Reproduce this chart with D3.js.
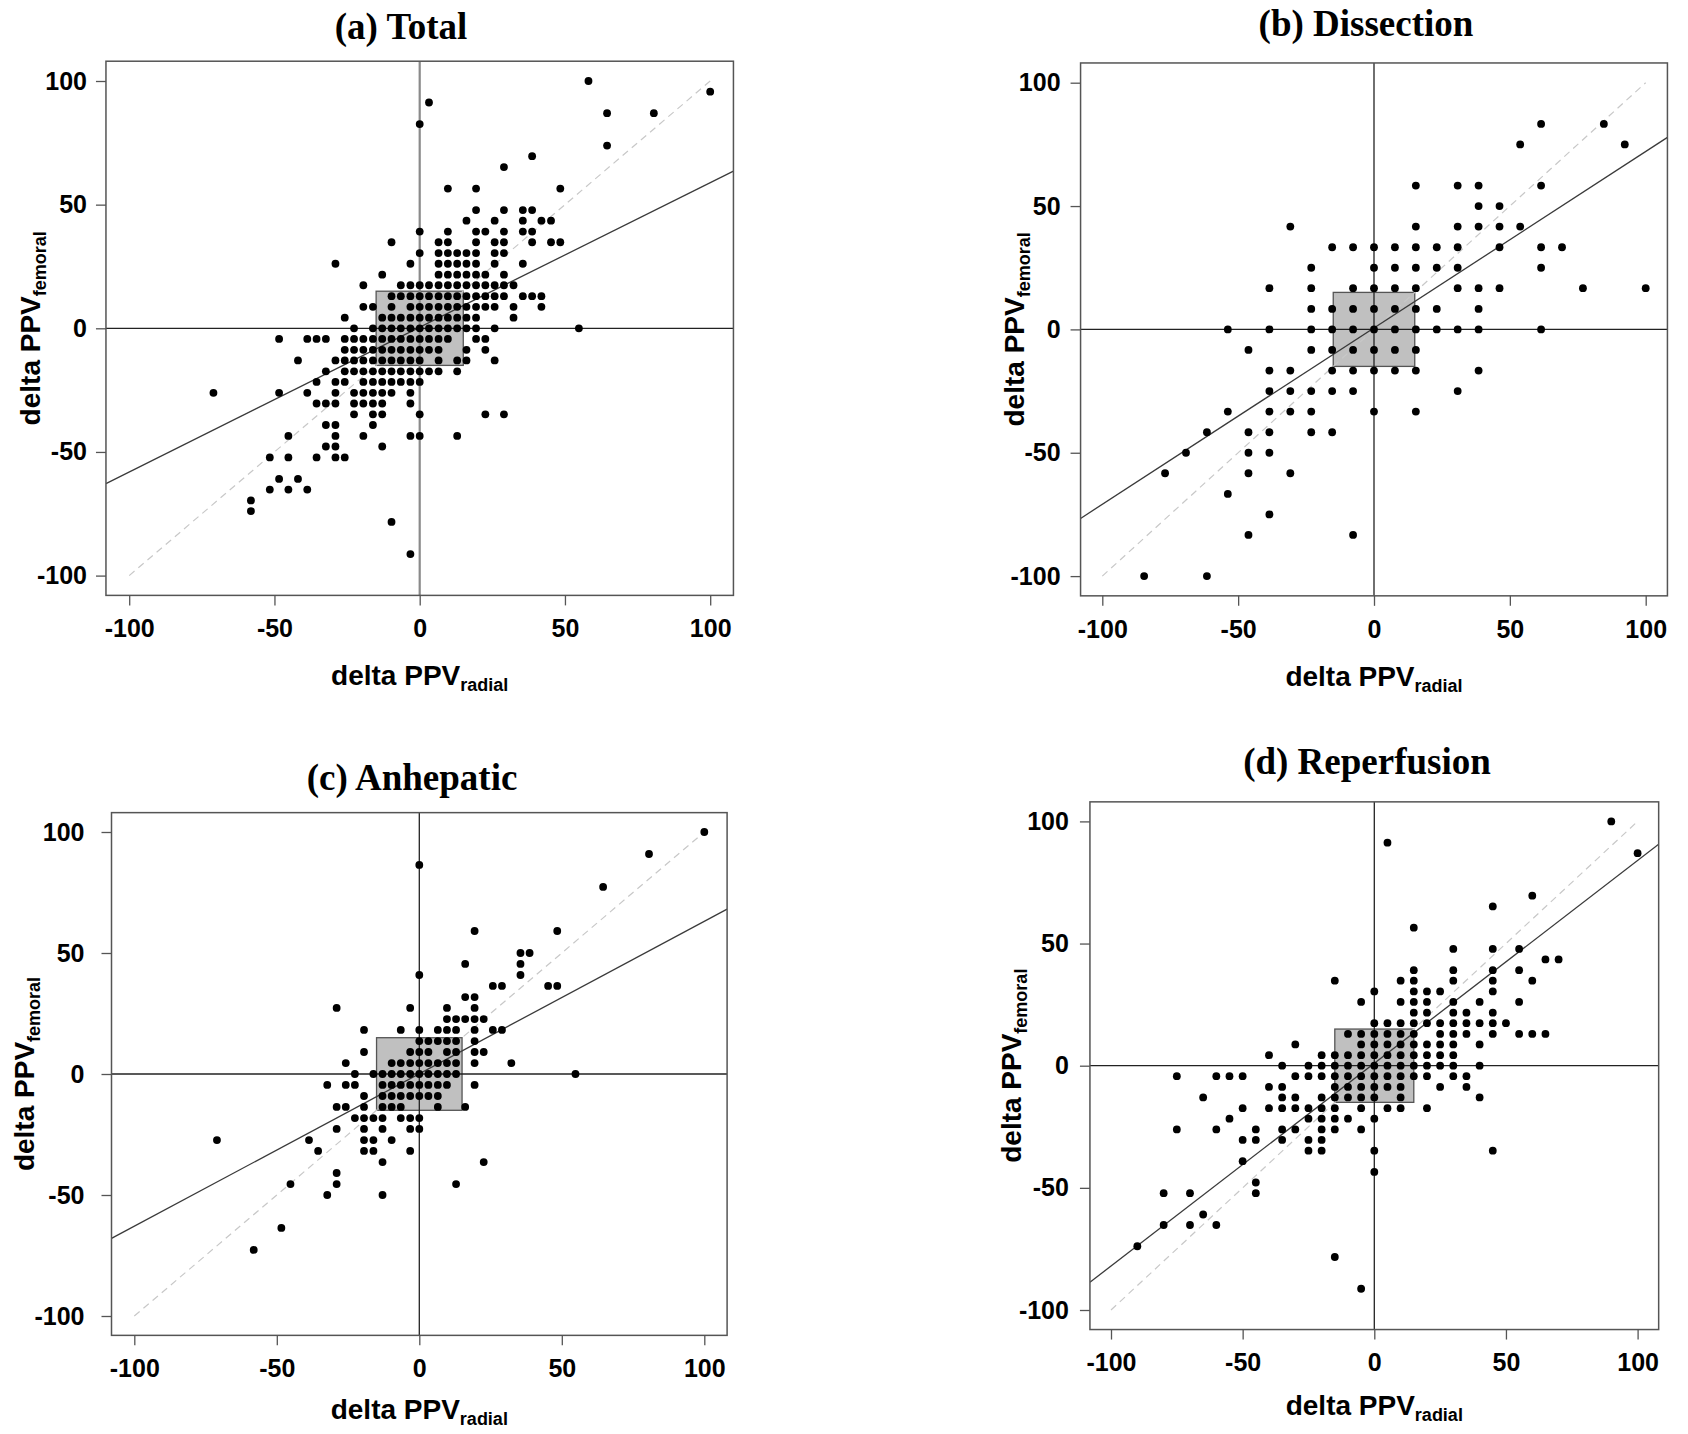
<!DOCTYPE html>
<html>
<head>
<meta charset="utf-8">
<script src="https://cdn.jsdelivr.net/npm/d3@7"></script>
<style>
  body { margin: 0; background: #fff; }
</style>
</head>
<body>
<div id="chart"></div>
<script>
// tick labels shared by every panel
const axisTicks = [-100, -50, 0, 50, 100];

// each row: [delta PPV femoral, [delta PPV radial values on that row]]
const totalRows = [
    [100, [58.1]],
    [95.7, [100]],
    [91.3, [3.2]],
    [87.0, [64.5, 80.6]],
    [82.6, [0]],
    [73.9, [64.5]],
    [69.6, [38.7]],
    [65.2, [29.0]],
    [56.5, [9.7, 19.4, 48.4]],
    [47.8, [19.4, 29.0, 35.5, 38.7]],
    [43.5, [16.1, 25.8, 35.5, 41.9, 45.2]],
    [39.1, [0, 9.7, 19.4, 22.6, 29.0, 35.5, 38.7]],
    [34.8, [-9.7, 6.5, 9.7, 19.4, 25.8, 29.0, 38.7, 45.2, 48.4]],
    [30.4, [0, 6.5, 9.7, 12.9, 16.1, 19.4, 25.8, 29.0]],
    [26.1, [-29.0, -3.2, 6.5, 9.7, 12.9, 16.1, 19.4, 25.8, 35.5]],
    [21.7, [-12.9, 6.5, 9.7, 12.9, 16.1, 19.4, 22.6, 29.0]],
    [17.4, [-19.4, -6.5, -3.2, 0, 3.2, 6.5, 9.7, 12.9, 16.1, 19.4, 22.6, 25.8, 29.0, 32.3]],
    [13.0, [-9.7, -6.5, -3.2, 0, 3.2, 6.5, 9.7, 12.9, 16.1, 19.4, 22.6, 25.8, 29.0, 35.5, 38.7, 41.9]],
    [8.7, [-19.4, -16.1, -9.7, -3.2, 0, 3.2, 6.5, 9.7, 12.9, 16.1, 19.4, 22.6, 25.8, 32.3, 41.9]],
    [4.3, [-25.8, -12.9, -9.7, -6.5, -3.2, 0, 3.2, 6.5, 9.7, 12.9, 16.1, 19.4, 32.3]],
    [0, [-22.6, -16.1, -12.9, -9.7, -6.5, -3.2, 0, 3.2, 6.5, 9.7, 12.9, 16.1, 19.4, 25.8, 54.8]],
    [-4.3, [-48.4, -38.7, -35.5, -32.3, -25.8, -22.6, -19.4, -16.1, -12.9, -9.7, -6.5, -3.2, 0, 3.2, 6.5, 9.7, 19.4, 22.6]],
    [-8.7, [-25.8, -22.6, -19.4, -16.1, -12.9, -9.7, -6.5, -3.2, 0, 3.2, 6.5, 16.1, 22.6]],
    [-13.0, [-41.9, -29.0, -25.8, -22.6, -19.4, -16.1, -12.9, -9.7, -6.5, -3.2, 0, 6.5, 12.9, 16.1, 25.8]],
    [-17.4, [-32.3, -25.8, -22.6, -19.4, -16.1, -12.9, -9.7, -6.5, -3.2, 0, 3.2, 6.5, 12.9]],
    [-21.7, [-35.5, -29.0, -25.8, -19.4, -16.1, -12.9, -9.7, -6.5, -3.2, 0]],
    [-26.1, [-71.0, -48.4, -38.7, -29.0, -22.6, -19.4, -16.1, -12.9, -9.7, -3.2]],
    [-30.4, [-35.5, -32.3, -29.0, -22.6, -19.4, -16.1, -12.9, -3.2]],
    [-34.8, [-22.6, -16.1, -12.9, 0, 22.6, 29.0]],
    [-39.1, [-32.3, -29.0, -16.1]],
    [-43.5, [-45.2, -29.0, -19.4, -3.2, 0, 12.9]],
    [-47.8, [-32.3, -29.0, -12.9]],
    [-52.2, [-51.6, -45.2, -35.5, -29.0, -25.8]],
    [-60.9, [-48.4, -41.9]],
    [-65.2, [-51.6, -45.2, -38.7]],
    [-69.6, [-58.1]],
    [-73.9, [-58.1]],
    [-78.3, [-9.7]],
    [-91.3, [-3.2]]
];

const dissectionRows = [
    [83.3, [61.5, 84.6]],
    [75, [53.8, 92.3]],
    [58.3, [15.4, 30.8, 38.5, 61.5]],
    [50, [38.5, 46.2]],
    [41.7, [-30.8, 15.4, 30.8, 38.5, 46.2, 53.8]],
    [33.3, [-15.4, -7.7, 0, 7.7, 15.4, 23.1, 30.8, 46.2, 61.5, 69.2]],
    [25, [-23.1, 0, 7.7, 15.4, 23.1, 30.8, 61.5]],
    [16.7, [-38.5, -23.1, -7.7, 0, 7.7, 15.4, 30.8, 38.5, 46.2, 76.9, 100]],
    [8.3, [-23.1, -15.4, -7.7, 0, 7.7, 15.4, 23.1, 38.5]],
    [0, [-53.8, -38.5, -23.1, -15.4, -7.7, 0, 7.7, 15.4, 23.1, 30.8, 38.5, 61.5]],
    [-8.3, [-46.2, -23.1, -15.4, -7.7, 0, 7.7, 15.4]],
    [-16.7, [-38.5, -30.8, -15.4, -7.7, 0, 7.7, 15.4, 38.5]],
    [-25, [-38.5, -30.8, -23.1, -15.4, -7.7, 30.8]],
    [-33.3, [-53.8, -38.5, -30.8, -23.1, 0, 15.4]],
    [-41.7, [-61.5, -46.2, -38.5, -23.1, -15.4]],
    [-50, [-69.2, -46.2, -38.5]],
    [-58.3, [-76.9, -46.2, -30.8]],
    [-66.7, [-53.8]],
    [-75, [-38.5]],
    [-83.3, [-46.2, -7.7]],
    [-100, [-84.6, -61.5]]
];

const anhepaticRows = [
    [100, [100]],
    [90.9, [80.6]],
    [86.4, [0]],
    [77.3, [64.5]],
    [59.1, [19.4, 48.4]],
    [50, [35.5, 38.7]],
    [45.5, [16.1, 35.5]],
    [40.9, [0, 35.5]],
    [36.4, [25.8, 29.0, 45.2, 48.4]],
    [31.8, [16.1, 19.4]],
    [27.3, [-29.0, -3.2, 9.7, 19.4]],
    [22.7, [9.7, 12.9, 16.1, 19.4, 22.6]],
    [18.2, [-19.4, -6.5, 0, 6.5, 9.7, 12.9, 19.4, 25.8, 29.0]],
    [13.6, [0, 3.2, 6.5, 9.7, 12.9, 19.4]],
    [9.1, [-19.4, -3.2, 0, 3.2, 9.7, 12.9, 19.4, 22.6]],
    [4.5, [-25.8, -9.7, -6.5, -3.2, 0, 3.2, 6.5, 9.7, 12.9, 19.4, 32.3]],
    [0, [-22.6, -16.1, -12.9, -9.7, -6.5, -3.2, 0, 3.2, 6.5, 9.7, 12.9, 54.8]],
    [-4.5, [-32.3, -25.8, -22.6, -12.9, -9.7, -6.5, -3.2, 0, 3.2, 6.5, 9.7, 19.4]],
    [-9.1, [-19.4, -12.9, -9.7, -6.5, -3.2, 0, 3.2, 6.5]],
    [-13.6, [-29.0, -25.8, -19.4, -12.9, -9.7, -6.5, 6.5, 16.1]],
    [-18.2, [-22.6, -19.4, -16.1, -12.9, -6.5, -3.2, 0]],
    [-22.7, [-29.0, -19.4, -12.9, -3.2, 0]],
    [-27.3, [-71.0, -38.7, -19.4, -16.1, -9.7]],
    [-31.8, [-35.5, -19.4, -16.1, -3.2]],
    [-36.4, [-12.9, 22.6]],
    [-40.9, [-29.0]],
    [-45.5, [-45.2, -29.0, 12.9]],
    [-50, [-32.3, -12.9]],
    [-63.6, [-48.4]],
    [-72.7, [-58.1]]
];

const reperfusionRows = [
    [100, [90]],
    [91.3, [5]],
    [87.0, [100]],
    [69.6, [60]],
    [65.2, [45]],
    [56.5, [15]],
    [47.8, [30, 45, 55]],
    [43.5, [65, 70]],
    [39.1, [15, 30, 45, 55]],
    [34.8, [-15, 10, 15, 30, 45, 60]],
    [30.4, [0, 15, 20, 25, 45]],
    [26.1, [-5, 10, 15, 20, 30, 40, 55]],
    [21.7, [15, 20, 30, 35, 45]],
    [17.4, [0, 5, 10, 15, 20, 25, 30, 35, 40, 45, 50]],
    [13.0, [-10, -5, 0, 5, 10, 15, 25, 30, 35, 45, 55, 60, 65]],
    [8.7, [-30, -5, 0, 5, 10, 15, 20, 25, 30, 40]],
    [4.3, [-40, -20, -15, -10, -5, 0, 5, 10, 15, 20, 25, 30]],
    [0, [-35, -25, -20, -15, -10, -5, 0, 5, 10, 15, 20, 25, 30, 40]],
    [-4.3, [-75, -60, -55, -50, -30, -25, -20, -15, -10, -5, 0, 5, 10, 15, 20, 30, 35]],
    [-8.7, [-40, -35, -15, -10, -5, 0, 5, 10, 25, 35]],
    [-13.0, [-65, -35, -30, -20, -15, -10, -5, 0, 10, 40]],
    [-17.4, [-50, -40, -35, -30, -25, -20, -15, -5, 5, 10, 20]],
    [-21.7, [-55, -25, -20, -15, -10, 0]],
    [-26.1, [-75, -60, -45, -35, -30, -20, -15, -5]],
    [-30.4, [-50, -45, -35, -25, -20]],
    [-34.8, [-25, -20, 0, 45]],
    [-39.1, [-50]],
    [-43.5, [0]],
    [-47.8, [-45]],
    [-52.2, [-80, -70, -45]],
    [-60.9, [-65]],
    [-65.2, [-80, -70, -60]],
    [-73.9, [-90]],
    [-78.3, [-15]],
    [-91.3, [-5]]
];

const panelTitles = ['(a) Total', '(b) Dissection', '(c) Anhepatic', '(d) Reperfusion'];
// regression line of each panel: femoral = slope * radial + intercept
const fitSlopes = [0.585, 0.715, 0.63, 0.83];
const fitIntercepts = [0.4, 0.6, 0.1, 1.0];
const greyZone = [-15, 15];
const identityEnds = [-100, 100];

const allRows = [totalRows, dissectionRows, anhepaticRows, reperfusionRows];

// page geometry (pixels) for every panel
const layouts = [
    {cx: 419.7, kx: 2.905, cy: 328.3, ky: 2.473, titleX: 401, titleY: 39, yTitleX: 40, yPad: 9, xLabGap: 90, vZero: '#8a8a8a', vZeroW: 2.2},
    {cx: 1374, kx: 2.717, cy: 329.4, ky: 2.467, titleX: 1366, titleY: 36, yTitleX: 1024, yPad: 10, xLabGap: 90, vZero: '#222', vZeroW: 1.3},
    {cx: 419.3, kx: 2.85, cy: 1074, ky: 2.42, titleX: 412, titleY: 790, yTitleX: 34, yPad: 17, xLabGap: 84, vZero: '#222', vZeroW: 1.3},
    {cx: 1374.3, kx: 2.633, cy: 1065.7, ky: 2.443, titleX: 1367, titleY: 774, yTitleX: 1021, yPad: 11, xLabGap: 85, vZero: '#222', vZeroW: 1.3}
];

const sansFont = '"Liberation Sans", Arial, sans-serif';
const serifFont = '"Liberation Serif", "Times New Roman", serif';
const lim = 108;

const svg = d3.select('#chart')
    .append('svg')
    .attr('width', 1688)
    .attr('height', 1434)
    .style('background', '#fff');

layouts.forEach(function (L, i) {
    const points = allRows[i].flatMap(([y, xs]) => xs.map(x => ({x: x, y: y})));

    const xScale = d3.scaleLinear().domain([-lim, lim]).range([L.cx - lim * L.kx, L.cx + lim * L.kx]);
    const yScale = d3.scaleLinear().domain([-lim, lim]).range([L.cy + lim * L.ky, L.cy - lim * L.ky]);
    const left = xScale(-lim), right = xScale(lim), top = yScale(lim), bottom = yScale(-lim);

    const g = svg.append('g');

    g.append('clipPath')
        .attr('id', 'clip' + i)
        .append('rect')
        .attr('x', left).attr('y', top)
        .attr('width', right - left).attr('height', bottom - top);

    const plot = g.append('g').attr('clip-path', `url(#clip${i})`);

    // grey agreement zone
    plot.append('rect')
        .attr('x', xScale(greyZone[0]))
        .attr('y', yScale(greyZone[1]))
        .attr('width', xScale(greyZone[1]) - xScale(greyZone[0]))
        .attr('height', yScale(greyZone[0]) - yScale(greyZone[1]))
        .attr('fill', '#c0c0c0')
        .attr('stroke', '#555')
        .attr('stroke-width', 1.3);

    // zero lines
    plot.append('line')
        .attr('x1', left).attr('x2', right)
        .attr('y1', yScale(0)).attr('y2', yScale(0))
        .attr('stroke', '#222').attr('stroke-width', 1.3);
    plot.append('line')
        .attr('x1', xScale(0)).attr('x2', xScale(0))
        .attr('y1', top).attr('y2', bottom)
        .attr('stroke', L.vZero).attr('stroke-width', L.vZeroW);

    // identity line
    plot.append('line')
        .attr('x1', xScale(identityEnds[0])).attr('y1', yScale(identityEnds[0]))
        .attr('x2', xScale(identityEnds[1])).attr('y2', yScale(identityEnds[1]))
        .attr('stroke', '#c8c8c8')
        .attr('stroke-width', 1.2)
        .attr('stroke-dasharray', '7,5');

    // regression line
    const fit = x => fitSlopes[i] * x + fitIntercepts[i];
    plot.append('path')
        .datum([-lim, lim])
        .attr('fill', 'none')
        .attr('stroke', '#3a3a3a')
        .attr('stroke-width', 1.3)
        .attr('d', d3.line().x(d => xScale(d)).y(d => yScale(fit(d))));

    // points
    plot.append('g')
        .selectAll('circle')
        .data(points)
        .enter()
        .append('circle')
        .attr('cx', d => xScale(d.x))
        .attr('cy', d => yScale(d.y))
        .attr('r', 3.9)
        .attr('fill', '#000');

    // frame
    g.append('rect')
        .attr('x', left).attr('y', top)
        .attr('width', right - left).attr('height', bottom - top)
        .attr('fill', 'none')
        .attr('stroke', '#555')
        .attr('stroke-width', 1.5);

    // axes
    const xAxis = g.append('g')
        .attr('transform', `translate(0,${bottom})`)
        .call(d3.axisBottom(xScale).tickValues(axisTicks).tickSize(10).tickPadding(14).tickFormat(d3.format('d')));
    const yAxis = g.append('g')
        .attr('transform', `translate(${left},0)`)
        .call(d3.axisLeft(yScale).tickValues(axisTicks).tickSize(10).tickPadding(L.yPad).tickFormat(d3.format('d')));

    [xAxis, yAxis].forEach(function (ax) {
        ax.select('.domain').remove();
        ax.selectAll('line').attr('stroke', '#555').attr('stroke-width', 1.3);
        ax.selectAll('text')
            .text(d => String(d))
            .attr('fill', '#000')
            .style('font-family', sansFont)
            .style('font-weight', 'bold')
            .style('font-size', '25px');
    });

    // panel title
    g.append('text')
        .attr('x', L.titleX)
        .attr('y', L.titleY)
        .attr('text-anchor', 'middle')
        .style('font-family', serifFont)
        .style('font-weight', 'bold')
        .style('font-size', '37px')
        .text(panelTitles[i]);

    // x label
    const xLab = g.append('text')
        .attr('x', L.cx)
        .attr('y', bottom + L.xLabGap)
        .attr('text-anchor', 'middle')
        .style('font-family', sansFont)
        .style('font-weight', 'bold');
    xLab.append('tspan').style('font-size', '28px').text('delta PPV');
    xLab.append('tspan').style('font-size', '18px').attr('dy', 6).text('radial');

    // y label
    const yLab = g.append('text')
        .attr('transform', `translate(${L.yTitleX},${L.cy}) rotate(-90)`)
        .attr('text-anchor', 'middle')
        .style('font-family', sansFont)
        .style('font-weight', 'bold');
    yLab.append('tspan').style('font-size', '28px').text('delta PPV');
    yLab.append('tspan').style('font-size', '18px').attr('dy', 6).text('femoral');
});
</script>
</body>
</html>
